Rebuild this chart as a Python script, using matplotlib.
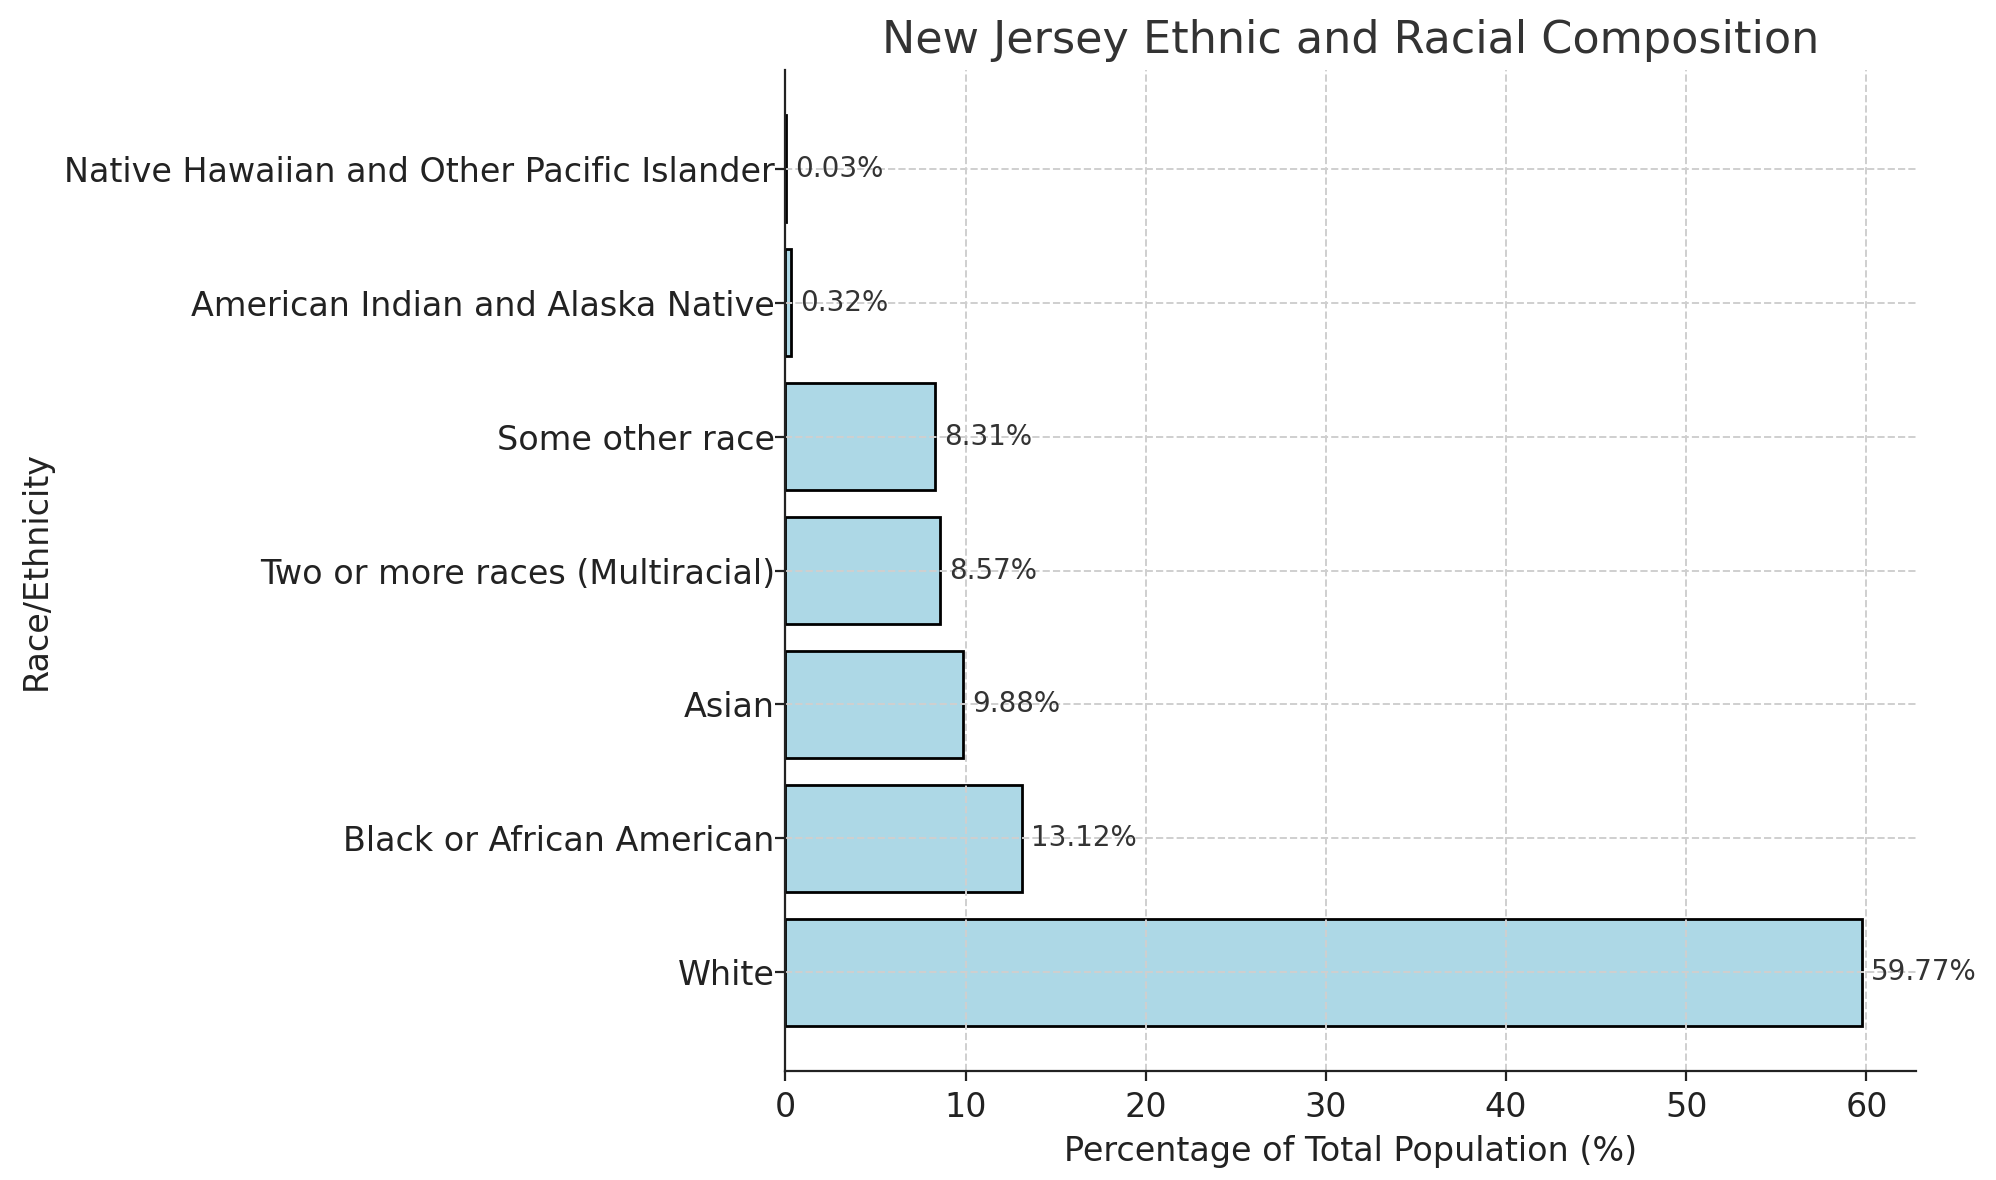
import matplotlib
matplotlib.use("Agg")
import matplotlib.pyplot as plt

# race / ethnicity categories and share of total population (%)
categories = [
    "White",
    "Black or African American",
    "Asian",
    "Two or more races (Multiracial)",
    "Some other race",
    "American Indian and Alaska Native",
    "Native Hawaiian and Other Pacific Islander",
]
percentages = [59.77, 13.12, 9.88, 8.57, 8.31, 0.32, 0.03]

fig, ax = plt.subplots(figsize=(9.98, 5.9), dpi=200)
fig.subplots_adjust(left=0.3935, right=0.96, top=0.941, bottom=0.092)

bars = ax.barh(categories, percentages, color="lightblue", edgecolor="black")

# value labels to the right of each bar
for bar, val in zip(bars, percentages):
    ax.text(bar.get_width() + 0.5, bar.get_y() + bar.get_height() / 2,
            "{0:.2f}%".format(val), va="center", ha="left",
            fontsize=10, color="#333333")

ax.set_xlim(0, max(percentages) * 1.05)
ax.set_title("New Jersey Ethnic and Racial Composition", fontsize=16, color="#333333")
ax.set_xlabel("Percentage of Total Population (%)", fontsize=12, color="#222222")
ax.set_ylabel("Race/Ethnicity", fontsize=12, color="#222222")
ax.tick_params(axis="both", labelsize=12, colors="#222222")
ax.tick_params(axis="y", pad=0.3)
ax.grid(True, linestyle="--", color="#cfcfcf", linewidth=0.7)
ax.spines["top"].set_visible(False)
ax.spines["right"].set_visible(False)
ax.spines["left"].set_color("#222222")
ax.spines["bottom"].set_color("#222222")

fig.savefig("out.png", dpi=200)
